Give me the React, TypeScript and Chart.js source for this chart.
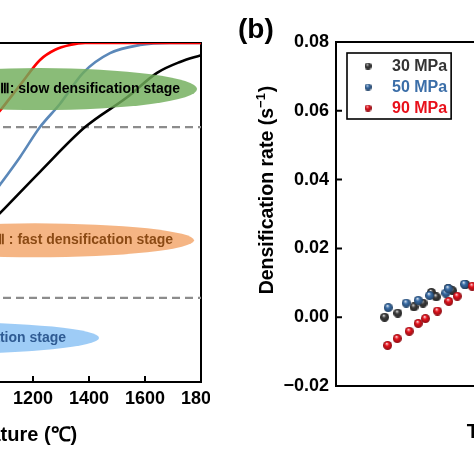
import React, { useEffect, useRef } from 'react';
import { Chart, registerables } from 'chart.js';

Chart.register(...registerables);

const FONT = '"Liberation Sans", Arial, sans-serif';

// Panel (a): relative density (%) against sintering temperature (℃)
const tempA30 = [1000, 1082, 1225, 1386, 1536, 1643, 1725, 1800];
const densA30 = [71.5, 74.9, 81.0, 87.6, 92.0, 95.6, 97.2, 98.2];
const tempA50 = [1000, 1082, 1154, 1225, 1296, 1379, 1475, 1582, 1689, 1800];
const densA50 = [74.6, 79.1, 83.2, 87.6, 91.0, 95.6, 98.5, 99.7, 100, 100];
const tempA90 = [1000, 1082, 1154, 1225, 1279, 1332, 1386, 1800];
const densA90 = [86.0, 90.0, 93.8, 97.5, 99.0, 99.7, 100, 100];
// density levels separating the three stages
const stageBounds = [87.6, 62.4];
const stageLabels = [
  'Ⅰ: initial densification stage',
  'Ⅱ : fast densification stage',
  'Ⅲ: slow densification stage',
];

// Panel (b): densification rate (s⁻¹) against temperature (℃)
const pressureLabels = ['30 MPa', '50 MPa', '90 MPa'];
const tempB30 = [431, 453, 480, 495, 509, 517, 537, 544, 566];
const rateB30 = [0.0, 0.0012, 0.003, 0.0041, 0.0072, 0.0059, 0.0083, 0.0077, 0.0095];
const tempB50 = [437, 467, 487, 506, 533, 537, 564];
const rateB50 = [0.0028, 0.0041, 0.0049, 0.0063, 0.007, 0.0083, 0.0096];
const tempB90 = [436, 452, 472, 487, 499, 519, 538, 552, 577];
const rateB90 = [-0.0082, -0.0062, -0.0041, -0.0018, -0.0004, 0.0018, 0.0046, 0.0061, 0.009];

const toPoints = (xs: number[], ys: number[]) => xs.map((x, i) => ({ x, y: ys[i] }));

// small shaded ball used as point marker
function makeSphere(rgb: number[], d: number) {
  const c = document.createElement('canvas');
  c.width = d;
  c.height = d;
  const g = c.getContext('2d')!;
  const r = d / 2;
  const mix = (k: number, t: number) => rgb.map((v) => Math.round(v + (t - v) * k)).join(',');
  const grad = g.createRadialGradient(r - r * 0.2, r - r * 0.45, r * 0.05, r, r, r);
  grad.addColorStop(0, `rgb(${mix(0.85, 255)})`);
  grad.addColorStop(0.4, `rgb(${rgb.join(',')})`);
  grad.addColorStop(1, `rgb(${mix(0.4, 0)})`);
  g.fillStyle = grad;
  g.beginPath();
  g.arc(r, r, r, 0, Math.PI * 2);
  g.fill();
  return c;
}

// plot frame plus inward tick marks
const framePlugin = {
  id: 'frameTicks',
  beforeDatasetsDraw(chart: any) {
    const { ctx, chartArea: a, scales } = chart;
    ctx.save();
    ctx.strokeStyle = '#000';
    ctx.lineWidth = 2;
    ctx.strokeRect(a.left, a.top, a.right - a.left, a.bottom - a.top);
    ctx.beginPath();
    for (const t of scales.x.ticks) {
      const p = scales.x.getPixelForValue(t.value);
      ctx.moveTo(p, a.bottom);
      ctx.lineTo(p, a.bottom - 6);
    }
    for (const t of scales.y.ticks) {
      const p = scales.y.getPixelForValue(t.value);
      ctx.moveTo(a.left, p);
      ctx.lineTo(a.left + 6, p);
    }
    ctx.stroke();
    ctx.restore();
  },
};

const axisFont = { family: FONT, size: 18, weight: 'bold' as const };
const titleFont = { family: FONT, size: 20, weight: 'bold' as const };
const plainTick = (v: any) => String(Math.round(Number(v)));

export default function App() {
  const leftRef = useRef<HTMLCanvasElement>(null);
  const rightRef = useRef<HTMLCanvasElement>(null);

  useEffect(() => {
    // stage ellipses, in data units of panel (a)
    const stageShapes = [
      { cx: 868, cy: 56.5, rx: 568, ry: 2.36, fill: 'rgba(150,200,245,0.92)', color: '#2f5b93', textEnd: 1318 },
      { cx: 1207, cy: 70.9, rx: 568, ry: 2.5, fill: 'rgba(244,177,125,0.95)', color: '#8b4a14', textEnd: 1700 },
      { cx: 1225, cy: 93.2, rx: 561, ry: 3.1, fill: 'rgba(112,173,90,0.82)', color: '#000', textEnd: 1725 },
    ];

    const stagePlugin = {
      id: 'stages',
      afterDatasetsDraw(chart: any) {
        const { ctx, chartArea: a, scales } = chart;
        const { x, y } = scales;
        ctx.save();
        ctx.beginPath();
        ctx.rect(a.left, a.top, a.right - a.left, a.bottom - a.top);
        ctx.clip();
        stageShapes.forEach((s, i) => {
          const px = x.getPixelForValue(s.cx);
          const py = y.getPixelForValue(s.cy);
          const rx = x.getPixelForValue(s.cx + s.rx) - px;
          const ry = py - y.getPixelForValue(s.cy + s.ry);
          ctx.fillStyle = s.fill;
          ctx.beginPath();
          ctx.ellipse(px, py, rx, ry, 0, 0, Math.PI * 2);
          ctx.fill();
          ctx.fillStyle = s.color;
          ctx.font = `bold 14px ${FONT}`;
          ctx.textAlign = 'right';
          ctx.textBaseline = 'middle';
          ctx.fillText(stageLabels[i], x.getPixelForValue(s.textEnd), py);
        });
        ctx.restore();
      },
    };

    const left = new Chart(leftRef.current!, {
      type: 'line',
      data: {
        datasets: [
          { label: '90 MPa', data: toPoints(tempA90, densA90), borderColor: '#ff0000', borderWidth: 2.6, pointRadius: 0, cubicInterpolationMode: 'monotone', order: 1 },
          { label: '50 MPa', data: toPoints(tempA50, densA50), borderColor: '#5b88b9', borderWidth: 2.6, pointRadius: 0, cubicInterpolationMode: 'monotone', order: 2 },
          { label: '30 MPa', data: toPoints(tempA30, densA30), borderColor: '#000000', borderWidth: 2.6, pointRadius: 0, cubicInterpolationMode: 'monotone', order: 3 },
          ...stageBounds.map((v) => ({
            label: '',
            data: [{ x: 350, y: v }, { x: 1800, y: v }],
            borderColor: '#8c8c8c',
            borderWidth: 2.2,
            borderDash: [8, 5],
            pointRadius: 0,
            order: 4,
          })),
        ],
      },
      options: {
        responsive: false,
        animation: false,
        layout: { padding: { top: 43, right: 39, left: 0, bottom: 0 } },
        plugins: { legend: { display: false }, tooltip: { enabled: false } },
        scales: {
          x: {
            type: 'linear',
            min: 350,
            max: 1800,
            grid: { display: false, drawTicks: false },
            border: { display: false },
            ticks: { stepSize: 200, padding: 6, color: '#000', font: axisFont, maxRotation: 0, autoSkip: false, callback: plainTick },
            title: { display: true, text: 'Temperature (℃)', color: '#000', font: titleFont, padding: { top: 0, bottom: 27 } },
            afterBuildTicks: (s: any) => { s.ticks = s.ticks.filter((t: any) => t.value % 200 === 0); },
            afterFit: (s: any) => { s.height = 92; },
          },
          y: {
            type: 'linear',
            min: 50,
            max: 100,
            grid: { display: false, drawTicks: false },
            border: { display: false },
            ticks: { stepSize: 10, padding: 7, color: '#000', font: axisFont, callback: plainTick },
            afterFit: (s: any) => { s.width = 95; },
          },
        },
      },
      plugins: [framePlugin, stagePlugin],
    } as any);

    const spheres = [
      [60, 60, 60],
      [58, 110, 168],
      [230, 20, 30],
    ];
    const legendColors = ['#333333', '#3b6ea8', '#e8101a'];

    const legendPlugin = {
      id: 'boxLegend',
      afterDraw(chart: any) {
        const { ctx, chartArea: a } = chart;
        ctx.save();
        ctx.font = `bold 16px ${FONT}`;
        const textW = Math.max(...pressureLabels.map((t) => ctx.measureText(t).width));
        const x0 = a.left + 11;
        const y0 = a.top + 11;
        const w = 45 + textW + 4;
        const h = 66;
        ctx.fillStyle = '#fff';
        ctx.fillRect(x0, y0, w, h);
        ctx.strokeStyle = '#000';
        ctx.lineWidth = 1.6;
        ctx.strokeRect(x0, y0, w, h);
        chart.data.datasets.forEach((ds: any, i: number) => {
          const cy = y0 + 13 + i * 21;
          const img = makeSphere(spheres[i], 7);
          ctx.drawImage(img, x0 + 21 - 3.5, cy - 3.5);
          ctx.fillStyle = legendColors[i];
          ctx.textAlign = 'left';
          ctx.textBaseline = 'middle';
          ctx.fillText(ds.label, x0 + 45, cy + 1);
        });
        ctx.restore();
      },
    };

    // rotated y title with a superscript exponent, and the panel letter
    const titlePlugin = {
      id: 'rateTitle',
      afterDraw(chart: any) {
        const { ctx } = chart;
        ctx.save();
        ctx.fillStyle = '#000';
        ctx.font = `bold 28px ${FONT}`;
        ctx.textAlign = 'left';
        ctx.textBaseline = 'middle';
        ctx.fillText('(b)', 28, 30);

        ctx.translate(58, 190);
        ctx.rotate(-Math.PI / 2);
        const main = 'Densification rate (s';
        const sup = '−1';
        const close = ')';
        const big = `bold 19.5px ${FONT}`;
        const small = `bold 13px ${FONT}`;
        ctx.font = big;
        const w1 = ctx.measureText(main).width;
        const w3 = ctx.measureText(close).width;
        ctx.font = small;
        const w2 = ctx.measureText(sup).width;
        let xs = -(w1 + w2 + w3 + 1) / 2;
        ctx.font = big;
        ctx.fillText(main, xs, 0);
        xs += w1;
        ctx.font = small;
        ctx.fillText(sup, xs, -7);
        xs += w2 + 1;
        ctx.font = big;
        ctx.fillText(close, xs, 0);
        ctx.restore();
      },
    };

    const fmtRate = (v: number) => {
      if (Math.abs(v) < 1e-9) return '0.00';
      return (v < 0 ? '−' : '') + Math.abs(v).toFixed(2);
    };

    const right = new Chart(rightRef.current!, {
      type: 'scatter',
      data: {
        datasets: [
          { label: pressureLabels[0], data: toPoints(tempB30, rateB30), pointStyle: makeSphere(spheres[0], 9), pointRadius: 4.5, order: 3 },
          { label: pressureLabels[1], data: toPoints(tempB50, rateB50), pointStyle: makeSphere(spheres[1], 9), pointRadius: 4.5, order: 2 },
          { label: pressureLabels[2], data: toPoints(tempB90, rateB90), pointStyle: makeSphere(spheres[2], 9), pointRadius: 4.5, order: 1 },
        ],
      },
      options: {
        responsive: false,
        animation: false,
        layout: { padding: { top: 42, right: 54, left: 0, bottom: 0 } },
        plugins: { legend: { display: false }, tooltip: { enabled: false } },
        scales: {
          x: {
            type: 'linear',
            min: 350,
            max: 1050,
            grid: { display: false, drawTicks: false },
            border: { display: false },
            ticks: { stepSize: 100, padding: 5, color: '#000', font: axisFont, maxRotation: 0, autoSkip: false, callback: plainTick },
            title: { display: true, text: 'Temperature (℃)', color: '#000', font: titleFont, padding: { top: 0, bottom: 30 } },
            afterBuildTicks: (s: any) => { s.ticks = s.ticks.filter((t: any) => t.value % 100 === 0); },
            afterFit: (s: any) => { s.height = 88; },
          },
          y: {
            type: 'linear',
            min: -0.02,
            max: 0.08,
            grid: { display: false, drawTicks: false },
            border: { display: false },
            ticks: { stepSize: 0.02, padding: 7, color: '#000', font: axisFont, callback: (v: any) => fmtRate(Number(v)) },
            afterFit: (s: any) => { s.width = 126; },
          },
        },
      },
      plugins: [framePlugin, legendPlugin, titlePlugin],
    } as any);

    return () => {
      left.destroy();
      right.destroy();
    };
  }, []);

  return (
    <div style={{ position: 'fixed', left: 0, top: 0, width: 474, height: 474, overflow: 'hidden', background: '#fff' }}>
      <canvas ref={leftRef} width={540} height={474} style={{ position: 'absolute', left: -300, top: 0 }} />
      <canvas ref={rightRef} width={600} height={474} style={{ position: 'absolute', left: 210, top: 0, background: '#fff' }} />
    </div>
  );
}
